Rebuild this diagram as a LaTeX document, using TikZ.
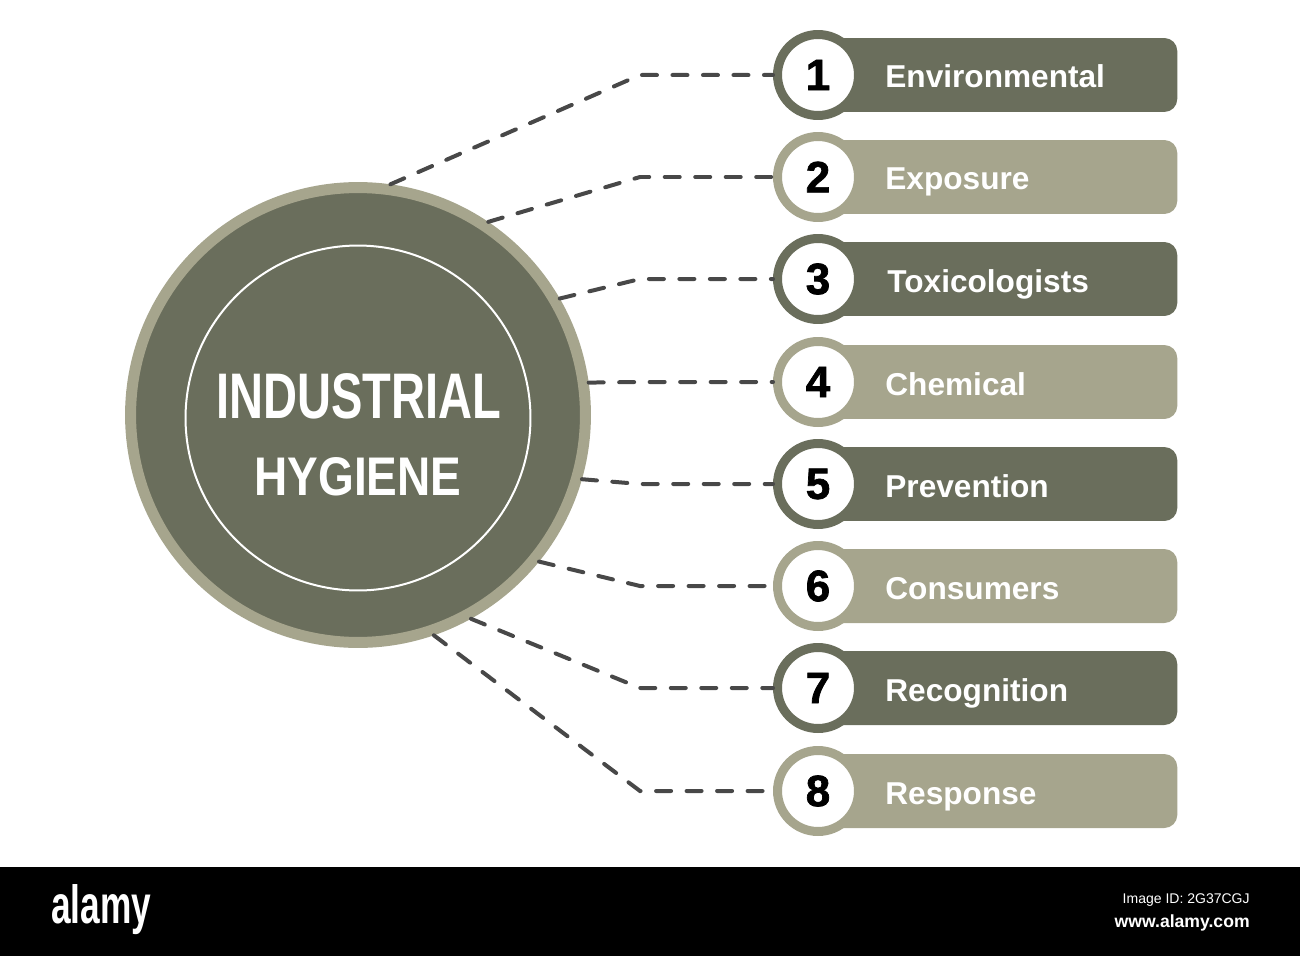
\documentclass[tikz,border=0pt]{standalone}
\usepackage{fontspec}
\usepackage{graphicx}
\setmainfont{Liberation Sans}
\newfontfamily\digitfont[BoldFeatures={FakeBold=1.6}]{Liberation Sans}

\definecolor{olivedark}{RGB}{106,110,92}
\definecolor{olivelight}{RGB}{166,165,141}
\definecolor{linkgray}{RGB}{72,72,72}

\tikzset{
  link/.style={draw=linkgray, line width=0.08cm, dash pattern=on 0.3cm off 0.31cm, line cap=round},
  bar/.style={rectangle, rounded corners=0.26cm, minimum width=7.18cm, minimum height=1.48cm, anchor=west, inner sep=0pt},
  num/.style={circle, fill=white, line width=0.18cm, minimum size=1.62cm, inner sep=0pt, font=\digitfont\bfseries\fontsize{25}{25}\selectfont},
  item/.style={anchor=base west, inner sep=0pt, text=white, font=\bfseries\fontsize{18}{18}\selectfont}
}

\begin{document}
\begin{tikzpicture}[x=0.02cm,y=-0.02cm]
        \useasboundingbox (0,0) rectangle (1300,956);

        % hub
        \node[circle, fill=olivedark, draw=olivelight, line width=0.22cm, minimum size=9.1cm, inner sep=0pt] (hub) at (358,415) {};
        \node[circle, draw=white, line width=0.04cm, minimum size=6.9cm, inner sep=0pt] (hubline) at (358,418) {};
        \begin{scope}[every node/.style={anchor=base, inner sep=0pt, text=white}]
          \node (title1) at (359,418) {\resizebox{5.7cm}{0.9cm}{\bfseries INDUSTRIAL}};
          \node (title2) at (358,495) {\resizebox{4.14cm}{0.76cm}{\bfseries HYGIENE}};
        \end{scope}

        % bars
        \node[bar, fill=olivedark]  (b1) at (818,75)  {};
        \node[bar, fill=olivelight] (b2) at (818,177) {};
        \node[bar, fill=olivedark]  (b3) at (818,279) {};
        \node[bar, fill=olivelight] (b4) at (818,382) {};
        \node[bar, fill=olivedark]  (b5) at (818,484) {};
        \node[bar, fill=olivelight] (b6) at (818,586) {};
        \node[bar, fill=olivedark]  (b7) at (818,688) {};
        \node[bar, fill=olivelight] (b8) at (818,791) {};

        % numbers
        \node[num, draw=olivedark]  (n1) at (818,75)  {1};
        \node[num, draw=olivelight] (n2) at (818,177) {2};
        \node[num, draw=olivedark]  (n3) at (818,279) {3};
        \node[num, draw=olivelight] (n4) at (818,382) {4};
        \node[num, draw=olivedark]  (n5) at (818,484) {5};
        \node[num, draw=olivelight] (n6) at (818,586) {6};
        \node[num, draw=olivedark]  (n7) at (818,688) {7};
        \node[num, draw=olivelight] (n8) at (818,791) {8};

        % labels
        \begin{scope}[every node/.style={item}]
          \node (t1) at (885,88)  {Environmental};
          \node (t2) at (885,190) {Exposure};
          \node (t3) at (887,292) {Toxicologists};
          \node (t4) at (885,395) {Chemical};
          \node (t5) at (885,497) {Prevention};
          \node (t6) at (885,599) {Consumers};
          \node (t7) at (885,701) {Recognition};
          \node (t8) at (885,804) {Response};
        \end{scope}

        % connectors
        \coordinate (c1) at (640,75);
        \coordinate (c2) at (640,177);
        \coordinate (c3) at (640,279);
        \coordinate (c4) at (640,382);
        \coordinate (c5) at (640,484);
        \coordinate (c6) at (640,586);
        \coordinate (c7) at (640,688);
        \coordinate (c8) at (640,791);
        \draw[link] (hub.82)  -- (c1) -- (n1.west);
        \draw[link] (hub.56)  -- (c2) -- (n2.west);
        \draw[link] (hub.30)  -- (c3) -- (n3.west);
        \draw[link] (hub.8)   -- (c4) -- (n4.west);
        \draw[link] (hub.-16) -- (c5) -- (n5.west);
        \draw[link] (hub.-39) -- (c6) -- (n6.west);
        \draw[link] (hub.-61) -- (c7) -- (n7.west);
        \draw[link] (hub.-71) -- (c8) -- (n8.west);

        % bottom band
        \fill[black] (0,867) rectangle (1300,956);
        \begin{scope}[every node/.style={inner sep=0pt, text=white}]
          \node[anchor=base west] (logo) at (51,923) {\resizebox{2cm}{0.78cm}{\bfseries alamy}};
          \node[anchor=base east] (imgid) at (1250,903) {\resizebox{2.54cm}{!}{Image ID: 2G37CGJ}};
          \node[anchor=base east] (site) at (1250,927) {\resizebox{2.7cm}{!}{\bfseries www.alamy.com}};
        \end{scope}

      \end{tikzpicture}
\end{document}
